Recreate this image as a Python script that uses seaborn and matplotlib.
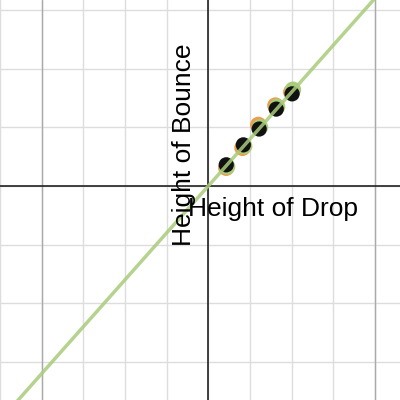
import numpy as np
import matplotlib.pyplot as plt
import seaborn as sns

# measured points (drop, bounce)
drop_black = [0.43, 0.84, 1.22, 1.63, 2.01]
bounce_black = [0.36, 0.70, 0.97, 1.31, 1.57]
drop_orange = [0.43, 0.82, 1.20, 1.61, 1.99]
bounce_orange = [0.31, 0.65, 1.04, 1.37, 1.60]
drop_green = [0.45, 0.86, 1.24, 1.65, 2.03]
bounce_green = [0.33, 0.68, 1.00, 1.35, 1.64]
fit_slope = 0.80
fit_x = [-6, 6]

sns.set_style("white")
plt.rcParams["font.family"] = ["Liberation Sans", "DejaVu Sans"]
fig, ax = plt.subplots(figsize=(4, 4), dpi=100)
fig.subplots_adjust(0, 0, 1, 1)
ax.set_xlim(-5.0, 4.6)
ax.set_ylim(-3.65, 3.17)
for gx in np.arange(-5, 5, 1):
    ax.axvline(gx, color="#dddddd", lw=1, zorder=0)
for gy in np.arange(-3, 4, 1):
    ax.axhline(gy, color="#dddddd", lw=1, zorder=0)
for gx in [-4, 4]:
    ax.axvline(gx, color="#aaaaaa", lw=1, zorder=0)
ax.axhline(0, color="#222222", lw=1.2, zorder=1)
ax.axvline(0, color="#222222", lw=1.2, zorder=1)

sns.scatterplot(x=drop_orange, y=bounce_orange, color="#f09a4a", s=140, edgecolor="none", ax=ax, zorder=2)
sns.scatterplot(x=drop_green, y=bounce_green, color="#a8cc7a", s=140, edgecolor="none", ax=ax, zorder=2)
sns.scatterplot(x=drop_black, y=bounce_black, color="#111111", s=120, edgecolor="none", ax=ax, zorder=4)
sns.lineplot(x=fit_x, y=[fit_slope * v for v in fit_x], color="#a8cc7a", lw=2.5, ax=ax, zorder=5, alpha=0.85)

ax.text(-0.5, -0.4, "Height of Drop", fontsize=19, color="black", ha="left", va="center", zorder=6)
ax.text(-0.58, 0.7, "Height of Bounce", fontsize=19, color="black", rotation=90, ha="center", va="center", zorder=6)
ax.set_xticks([])
ax.set_yticks([])
for s in ax.spines.values():
    s.set_visible(False)
fig.savefig("out.png")
